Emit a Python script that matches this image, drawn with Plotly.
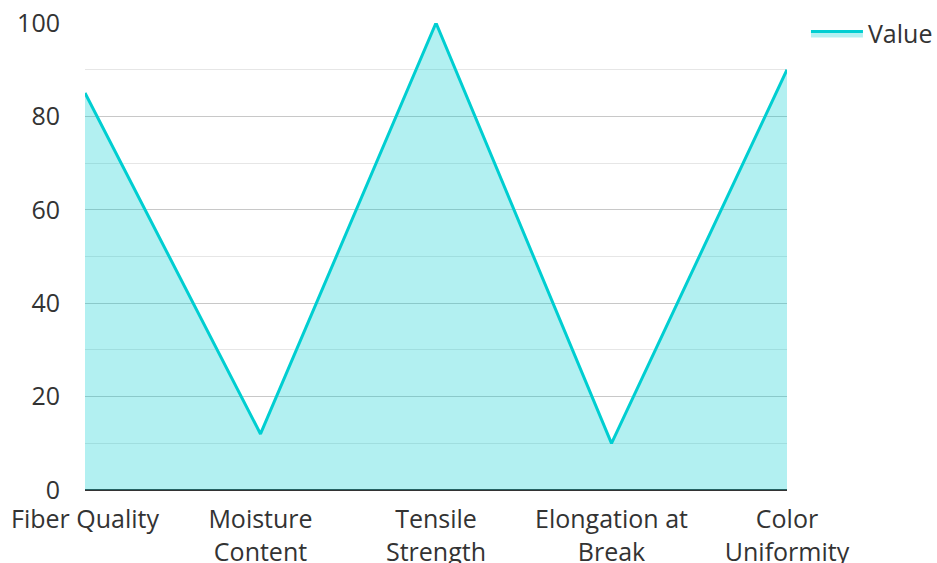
import plotly.graph_objects as go

categories = ["Fiber Quality", "Moisture<br>Content", "Tensile<br>Strength", "Elongation at<br>Break", "Color<br>Uniformity"]
values = [85, 12, 100, 10, 90]
series_name = "Value"
y_ticks = [0, 20, 40, 60, 80, 100]

fig = go.Figure()
fig.add_trace(go.Scatter(
    x=categories, y=values, name=series_name, mode="lines",
    line=dict(color="#00CED1", width=3),
    fill="tozeroy", fillcolor="rgba(0,206,209,0.3)",
))

fig.update_layout(
    width=937, height=563,
    margin=dict(l=85, r=150, t=23, b=73, autoexpand=False),
    paper_bgcolor="white", plot_bgcolor="white",
    font=dict(family="Open Sans, Noto Sans, sans-serif", size=25, color="#333333"),
    showlegend=True,
    legend=dict(x=1.027, y=1.026, xanchor="left", yanchor="top", font=dict(size=25, color="#333333"),
                bgcolor="rgba(0,0,0,0)", itemwidth=52),
    xaxis=dict(type="category", range=[0, 4], showgrid=False, showline=False, zeroline=False,
               automargin=False, ticks="", tickfont=dict(size=25, color="#333333"), ticklabelstandoff=12),
    yaxis=dict(range=[0, 100], tickvals=y_ticks, showgrid=True, gridcolor="#c8c8c8", gridwidth=1,
               automargin=False, ticklabeloverflow="allow",
               zeroline=True, zerolinecolor="#333333", zerolinewidth=2, showline=False, ticks="",
               tickfont=dict(size=25, color="#333333"), ticklabelstandoff=24,
               minor=dict(dtick=10, showgrid=True, gridcolor="#e6e6e6", gridwidth=1)),
)

fig.write_html(
    "out.html",
    config={"displayModeBar": False},
    post_script="document.body.style.margin='0';document.body.style.overflow='hidden';",
)
